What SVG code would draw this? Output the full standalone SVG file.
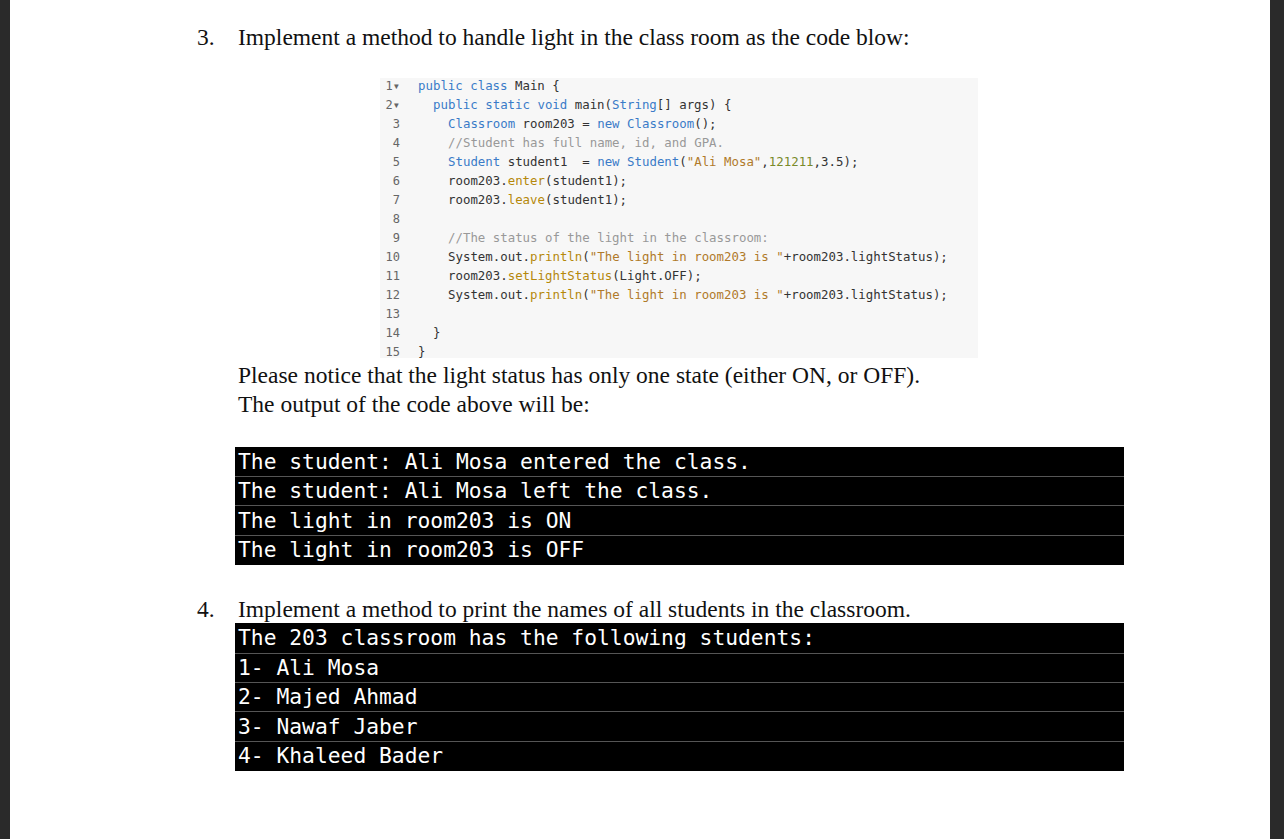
<svg xmlns="http://www.w3.org/2000/svg" width="1284" height="839" viewBox="0 0 1284 839">
<style>
.t{font-family:"Liberation Serif",serif;font-size:23.5px;fill:#111}
.c{font-family:"DejaVu Sans Mono",monospace;font-size:12.4px;fill:#333}
.n{font-family:"DejaVu Sans Mono",monospace;font-size:12px;fill:#666;text-anchor:end}
.k{fill:#3a7bc8}.s{fill:#b07a2a}.m{fill:#999}.f{fill:#b5880b}.g{fill:#7a8a2a}
.o{font-family:"DejaVu Sans Mono",monospace;font-size:21.3px;fill:#fff}
.sep{stroke:#555;stroke-width:1}
</style>
<rect width="1284" height="839" fill="#2a2a2a"/>
<rect x="10" y="0" width="1260" height="839" fill="#fff"/>
<text class="t" x="197" y="45">3.</text>
<text class="t" x="238" y="45">Implement a method to handle light in the class room as the code blow:</text>
<g id="code">
<rect x="380" y="78" width="598" height="280" fill="#f7f7f7"/>
<g>
<text class="n" x="400" y="90">1▾</text><text class="n" x="400" y="109">2▾</text>
<text class="n" x="400" y="128">3</text><text class="n" x="400" y="147">4</text>
<text class="n" x="400" y="166">5</text><text class="n" x="400" y="185">6</text>
<text class="n" x="400" y="204">7</text><text class="n" x="400" y="223">8</text>
<text class="n" x="400" y="242">9</text><text class="n" x="400" y="261">10</text>
<text class="n" x="400" y="280">11</text><text class="n" x="400" y="299">12</text>
<text class="n" x="400" y="318">13</text><text class="n" x="400" y="337">14</text>
<text class="n" x="400" y="356">15</text>
</g>
<text class="c" x="418" y="90" xml:space="preserve"><tspan class="k">public class</tspan> Main {</text>
<text class="c" x="433" y="109" xml:space="preserve"><tspan class="k">public static void</tspan> main(<tspan class="k">String</tspan>[] args) {</text>
<text class="c" x="448" y="128" xml:space="preserve"><tspan class="k">Classroom</tspan> room203 = <tspan class="k">new Classroom</tspan>();</text>
<text class="c m" x="448" y="147">//Student has full name, id, and GPA.</text>
<text class="c" x="448" y="166" xml:space="preserve"><tspan class="k">Student</tspan> student1  = <tspan class="k">new Student</tspan>(<tspan class="s">"Ali Mosa"</tspan>,<tspan class="g">121211</tspan>,3.5);</text>
<text class="c" x="448" y="185">room203.<tspan class="f">enter</tspan>(student1);</text>
<text class="c" x="448" y="204">room203.<tspan class="f">leave</tspan>(student1);</text>
<text class="c m" x="448" y="242">//The status of the light in the classroom:</text>
<text class="c" x="448" y="261" xml:space="preserve">System.out.<tspan class="f">println</tspan>(<tspan class="s">"The light in room203 is "</tspan>+room203.lightStatus);</text>
<text class="c" x="448" y="280">room203.<tspan class="f">setLightStatus</tspan>(Light.OFF);</text>
<text class="c" x="448" y="299" xml:space="preserve">System.out.<tspan class="f">println</tspan>(<tspan class="s">"The light in room203 is "</tspan>+room203.lightStatus);</text>
<text class="c" x="433" y="337">}</text>
<text class="c" x="418" y="356">}</text>
</g>
<text class="t" x="238" y="383">Please notice that the light status has only one state (either ON, or OFF).</text>
<text class="t" x="238" y="412">The output of the code above will be:</text>
<g id="out1">
<rect x="235" y="447" width="889" height="118" fill="#000"/>
<line class="sep" x1="235" y1="476.5" x2="1124" y2="476.5"/>
<line class="sep" x1="235" y1="505.5" x2="1124" y2="505.5"/>
<line class="sep" x1="235" y1="535.5" x2="1124" y2="535.5"/>
<text class="o" x="238" y="469">The student: Ali Mosa entered the class.</text>
<text class="o" x="238" y="498">The student: Ali Mosa left the class.</text>
<text class="o" x="238" y="528">The light in room203 is ON</text>
<text class="o" x="238" y="557">The light in room203 is OFF</text>
</g>
<text class="t" x="197" y="617">4.</text>
<text class="t" x="238" y="617">Implement a method to print the names of all students in the classroom.</text>
<g id="out2">
<rect x="235" y="623" width="889" height="148" fill="#000"/>
<line class="sep" x1="235" y1="653.5" x2="1124" y2="653.5"/>
<line class="sep" x1="235" y1="682.5" x2="1124" y2="682.5"/>
<line class="sep" x1="235" y1="711.5" x2="1124" y2="711.5"/>
<line class="sep" x1="235" y1="741.5" x2="1124" y2="741.5"/>
<text class="o" x="238" y="645">The 203 classroom has the following students:</text>
<text class="o" x="238" y="675">1- Ali Mosa</text>
<text class="o" x="238" y="704">2- Majed Ahmad</text>
<text class="o" x="238" y="734">3- Nawaf Jaber</text>
<text class="o" x="238" y="763">4- Khaleed Bader</text>
</g>
</svg>
